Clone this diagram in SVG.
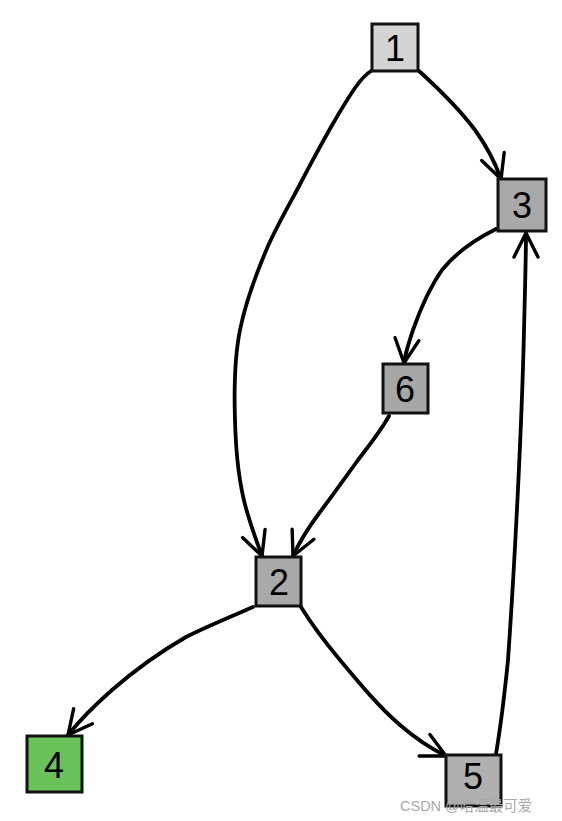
<svg xmlns="http://www.w3.org/2000/svg" width="562" height="821" viewBox="0 0 562 821">
<style>
.edge{fill:none;stroke:#000;stroke-width:3.8;stroke-linecap:round;stroke-linejoin:round}
.node rect{stroke:#111;stroke-width:3}
.node text{font-family:"Liberation Sans","DejaVu Sans",sans-serif;font-size:36px;fill:#000;text-anchor:middle;dominant-baseline:central}
.wm{font-family:"Liberation Sans","Noto Sans CJK SC",sans-serif;font-size:14.5px;fill:#a8a8a8}
</style>
<defs>
<marker id="arrow" markerUnits="userSpaceOnUse" markerWidth="40" markerHeight="40" viewBox="-30 -20 40 40" refX="0" refY="0" orient="auto">
<path d="M-24,-12 L0,0 L-24,12" fill="none" stroke="#000" stroke-width="3.4" stroke-linecap="round" stroke-linejoin="round"/>
</marker>
</defs>
<rect width="562" height="821" fill="#fff"/>
<g id="connectors">
<path class="edge" marker-end="url(#arrow)" d="M371,71 C360,78 350,95 338,115 C322,142 310,165 297,190 C285,212 276,228 268,246 C256,274 246,300 240,330 C235,355 234,390 235,420 C236,460 240,490 248,515 C253,532 258,545 262,556"/>
<path class="edge" marker-end="url(#arrow)" d="M419,71 C440,90 460,110 475,130 C488,148 496,165 501,179"/>
<path class="edge" marker-end="url(#arrow)" d="M496,229 C478,238 458,250 442,270 C428,290 420,310 413,330 C408,345 405,355 404,363"/>
<path class="edge" marker-end="url(#arrow)" d="M389,416 C380,432 368,447 358,460 C345,478 333,495 320,512 C308,528 299,543 293,556"/>
<path class="edge" marker-end="url(#arrow)" d="M253,607 C235,615 210,625 186,637 C160,652 135,670 112,690 C95,705 80,720 68,735"/>
<path class="edge" marker-end="url(#arrow)" d="M301,607 C312,625 325,642 340,660 C360,684 380,708 400,725 C415,738 430,748 446,756"/>
<path class="edge" marker-end="url(#arrow)" d="M496,754 C500,730 504,700 508,660 C515,560 522,420 524,330 C525,290 526,255 526,233"/>
</g>
<g id="node1" class="node"><rect x="372" y="24" width="46" height="47" fill="#d4d4d4"/><text x="395" y="48">1</text></g>
<g id="node3" class="node"><rect x="498" y="179" width="48" height="52" fill="#a9a9a9"/><text x="522" y="205">3</text></g>
<g id="node6" class="node"><rect x="383" y="364" width="45" height="49" fill="#a7a7a7"/><text x="405" y="389">6</text></g>
<g id="node2" class="node"><rect x="256" y="557" width="45" height="49" fill="#a9a9a9"/><text x="279" y="582">2</text></g>
<g id="node4" class="node"><rect x="27" y="736" width="55" height="56" fill="#6cc25a"/><text x="54" y="765">4</text></g>
<g id="node5" class="node"><rect x="446" y="755" width="55" height="51" fill="#b0b0b0"/><text x="473" y="776">5</text></g>
<text class="wm" x="400" y="811">CSDN @哈温最可爱</text>
</svg>
